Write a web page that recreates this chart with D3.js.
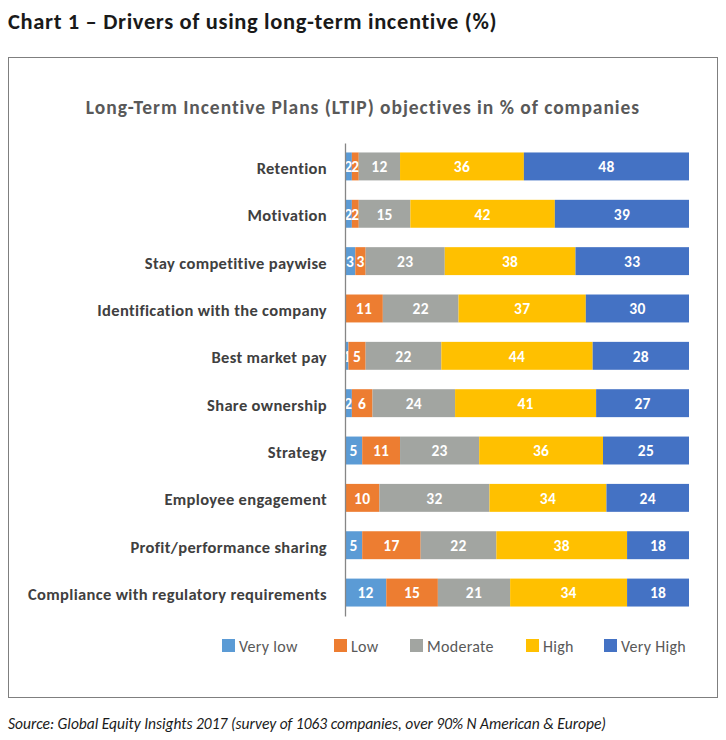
<!DOCTYPE html>
<html>
<head>
<meta charset="utf-8">
<script src="https://cdn.jsdelivr.net/npm/d3@7"></script>
<style>
  body { margin: 0; background: #fff; }
  svg { display: block; font-family: Carlito, Lato, "Open Sans", sans-serif; }
</style>
</head>
<body>
<svg id="chart" width="726" height="740"></svg>
<script>
const categories = [
  'Retention',
  'Motivation',
  'Stay competitive paywise',
  'Identification with the company',
  'Best market pay',
  'Share ownership',
  'Strategy',
  'Employee engagement',
  'Profit/performance sharing',
  'Compliance with regulatory requirements',
];
const seriesNames = ['Very low', 'Low', 'Moderate', 'High', 'Very High'];
const veryLow = [2, 2, 3, 0, 1, 2, 5, 0, 5, 12];
const low = [2, 2, 3, 11, 5, 6, 11, 10, 17, 15];
const moderate = [12, 15, 23, 22, 22, 24, 23, 32, 22, 21];
const high = [36, 42, 38, 37, 44, 41, 36, 34, 38, 34];
const veryHigh = [48, 39, 33, 30, 28, 27, 25, 24, 18, 18];
const colors = ['#5b9bd5', '#ed7d31', '#a2a5a1', '#ffc000', '#4472c4'];

const rows = categories.map((c, i) => ({
  cat: c,
  'Very low': veryLow[i],
  'Low': low[i],
  'Moderate': moderate[i],
  'High': high[i],
  'Very High': veryHigh[i],
}));

// letter-spacing needed so a text takes up roughly the given width
function fitWidth(node, target) {
  const len = node.getComputedTextLength();
  const n = node.textContent.length;
  return (target - len) / n;
}

const svg = d3.select('#chart');

// page title
const title = svg.append('text')
  .attr('x', 8).attr('y', 29)
  .attr('font-size', 22.5).attr('font-weight', 'bold').attr('fill', '#1a1a1a')
  .text('Chart 1 \u2013 Drivers of using long-term incentive (%)');
title.attr('letter-spacing', fitWidth(title.node(), 489));

// frame
svg.append('rect')
  .attr('x', 8.5).attr('y', 57.5).attr('width', 709).attr('height', 640)
  .attr('fill', 'none').attr('stroke', '#7f7f7f').attr('stroke-width', 1);

const sub = svg.append('text')
  .attr('x', 363).attr('y', 114).attr('text-anchor', 'middle')
  .attr('font-size', 19.5).attr('font-weight', 'bold').attr('fill', '#595959')
  .text('Long-Term Incentive Plans (LTIP) objectives in % of companies');
sub.attr('letter-spacing', fitWidth(sub.node(), 554));

const x = d3.scaleLinear().domain([0, 100]).range([345, 689]);
const y = d3.scaleBand().domain(categories).range([143, 616]).paddingInner(0.41).paddingOuter(0.2);

const stack = d3.stack().keys(seriesNames)(rows);

const layers = svg.append('g').selectAll('g')
  .data(stack)
  .join('g')
  .attr('fill', (d, i) => colors[i]);

layers.selectAll('rect')
  .data(d => d)
  .join('rect')
  .attr('x', d => x(d[0]))
  .attr('y', d => y(d.data.cat))
  .attr('width', d => x(d[1]) - x(d[0]))
  .attr('height', y.bandwidth());

layers.selectAll('text')
  .data(d => d.filter(p => p[1] - p[0] > 0))
  .join('text')
  .attr('x', d => (x(d[0]) + x(d[1])) / 2)
  .attr('y', d => y(d.data.cat) + y.bandwidth() / 2)
  .attr('dy', '0.38em')
  .attr('text-anchor', 'middle')
  .attr('font-size', 15.5).attr('font-weight', 'bold').attr('fill', '#fff')
  .attr('letter-spacing', 0.3)
  .text(d => d[1] - d[0]);

// category axis
const yAxis = svg.append('g')
  .attr('transform', 'translate(345,0)')
  .call(d3.axisLeft(y).tickSize(0).tickPadding(18));
yAxis.select('.domain').attr('stroke', '#868686').attr('stroke-width', 1.3);
const catText = yAxis.selectAll('text')
  .attr('font-family', 'Carlito, Lato, "Open Sans", sans-serif')
  .attr('font-size', 16.5).attr('font-weight', 'bold').attr('fill', '#404040')
  .attr('dy', '0.45em');
const longest = catText.filter(d => d === categories[9]).node();
catText.attr('letter-spacing', fitWidth(longest, 299));

// legend
const legendX = [222, 334, 410, 526, 604];
const legend = svg.append('g').selectAll('g')
  .data(seriesNames)
  .join('g')
  .attr('transform', (d, i) => `translate(${legendX[i]},639)`);
legend.append('rect').attr('width', 13).attr('height', 13).attr('fill', (d, i) => colors[i]);
legend.append('text')
  .attr('x', 17).attr('y', 7).attr('dy', '0.38em')
  .attr('font-size', 16).attr('fill', '#595959')
  .attr('letter-spacing', 0.3)
  .text(d => d);

const src = svg.append('text')
  .attr('x', 8).attr('y', 729)
  .attr('font-size', 15.5).attr('font-style', 'italic').attr('fill', '#1a1a1a')
  .text('Source: Global Equity Insights 2017 (survey of 1063 companies, over 90% N American & Europe)');
src.attr('letter-spacing', fitWidth(src.node(), 598));
</script>
</body>
</html>
